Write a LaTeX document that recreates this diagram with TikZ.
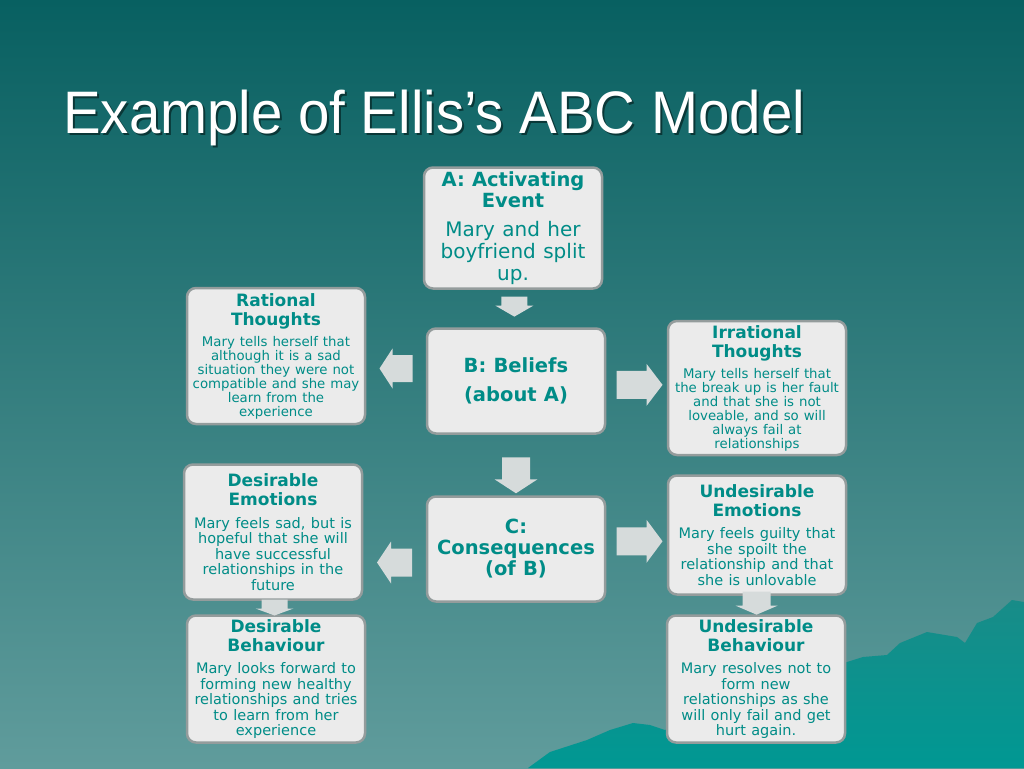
\documentclass[tikz,border=0pt]{standalone}
\usepackage{fontspec}
\setmainfont{DejaVu Sans}
\newfontfamily\titlefont{Liberation Sans}
\usetikzlibrary{calc}

\definecolor{bgtop}{RGB}{8,96,97}
\definecolor{bgmid}{RGB}{60,123,121}
\definecolor{bgbot}{RGB}{96,156,156}
\definecolor{hilltop}{RGB}{24,140,136}
\definecolor{hillbot}{RGB}{0,152,147}
\definecolor{cardfill}{RGB}{235,235,235}
\definecolor{cardline}{RGB}{148,156,156}
\definecolor{cardtext}{RGB}{0,140,135}
\definecolor{arrowfill}{RGB}{214,219,219}
\definecolor{titleshade}{RGB}{10,55,55}

\newcommand{\widespace}{\spaceskip=0.37em\relax}
\newcommand{\bighead}{\fontsize{19.5}{21}\selectfont\bfseries\widespace}
\newcommand{\bigbody}{\fontsize{20}{22}\selectfont\mdseries\widespace}
\newcommand{\sidehead}{\fontsize{17}{19}\selectfont\bfseries\widespace}
\newcommand{\thinkbody}{\fontsize{13.3}{14}\selectfont\mdseries\widespace}
\newcommand{\sidebody}{\fontsize{14.5}{15.5}\selectfont\mdseries\widespace}
% block arrow: position, angle, length, head width, shaft width, head length
\newcommand{\blockarrow}[6]{%
  \fill[arrowfill, shift={#1}, rotate=#2]
    (-#3/2,-#5/2) -- (#3/2-#6,-#5/2) -- (#3/2-#6,-#4/2) -- (#3/2,0)
    -- (#3/2-#6,#4/2) -- (#3/2-#6,#5/2) -- (-#3/2,#5/2) -- cycle;}

\tikzset{
  card/.style={draw=cardline, fill=cardfill, line width=2.5pt,
    rounded corners=9pt, align=center, text=cardtext, inner sep=3pt,
    text width=172pt, minimum width=178pt},
  heading/.style={anchor=base west, inner sep=0pt, xscale=0.94,
    font=\titlefont\fontsize{60}{60}\selectfont},
}

\begin{document}
\begin{tikzpicture}[x=1pt,y=-1pt]
  \useasboundingbox (0,0) rectangle (1024,768);
  \shade[top color=bgtop, middle color=bgmid, bottom color=bgbot]
    (0,0) rectangle (1024,768);
  % hills
  \shade[top color=hilltop, bottom color=hillbot]
    (528,768) -- (550,752) -- (587,740) -- (610,730) -- (633,723)
    -- (650,725) -- (665,730) -- (720,705) -- (790,680) -- (847,662)
    -- (863,657) -- (887,655) -- (900,643) -- (927,632) -- (957,637)
    -- (965,643) -- (977,623) -- (993,617) -- (1012,600) -- (1024,602)
    -- (1024,768) -- cycle;

  % title
  \node[heading, text=titleshade] (shadow) at (65,135) {Example of Ellis’s ABC Model};
  \node[heading, text=white] (title) at (63,133) {Example of Ellis’s ABC Model};

  % centre column
  \node[card, minimum height=121pt] (A) at (513,228)
    {\bighead A: Activating\\Event\par\vspace{7pt}\bigbody Mary and her\\boyfriend split\\up.\par};
  \node[card, minimum height=105pt] (B) at (516,381)
    {\bighead B: Beliefs\par\vspace{8pt}(about A)\par};
  \node[card, minimum height=105pt] (C) at (516,549)
    {\bighead C:\\Consequences\\(of B)\par};

  % left column
  \node[card, minimum height=136pt] (R) at (276,356)
    {\sidehead Rational\\Thoughts\par\vspace{7pt}\thinkbody Mary tells herself that\\although it is a sad\\situation they were not\\compatible and she may\\learn from the\\experience\par};
  \node[card, minimum height=135pt] (DE) at (273,532)
    {\sidehead Desirable\\Emotions\par\vspace{7pt}\sidebody Mary feels sad, but is\\hopeful that she will\\have successful\\relationships in the\\future\par};
  \node[card, minimum height=127pt] (DB) at (276,679)
    {\sidehead Desirable\\Behaviour\par\vspace{7pt}\sidebody Mary looks forward to\\forming new healthy\\relationships and tries\\to learn from her\\experience\par};

  % right column
  \node[card, minimum height=134pt] (I) at (757,388)
    {\sidehead Irrational\\Thoughts\par\vspace{7pt}\thinkbody Mary tells herself that\\the break up is her fault\\and that she is not\\loveable, and so will\\always fail at\\relationships\par};
  \node[card, minimum height=119pt] (UE) at (757,535)
    {\sidehead Undesirable\\Emotions\par\vspace{7pt}\sidebody Mary feels guilty that\\she spoilt the\\relationship and that\\she is unlovable\par};
  \node[card, minimum height=127pt] (UB) at (756,679)
    {\sidehead Undesirable\\Behaviour\par\vspace{7pt}\sidebody Mary resolves not to\\form new\\relationships as she\\will only fail and get\\hurt again.\par};

  % arrows
  \blockarrow{($(A.south)!0.45!(B.north)$)}{-90}{20}{38}{26}{11}
  \blockarrow{($(B.south)!0.67!(C.north)$)}{-90}{36}{43}{28}{14}
  \blockarrow{($(B.west)!0.5!(R.east)$)}{180}{33}{40}{27}{13}
  \blockarrow{($(B.east)!0.55!(I.west)$)}{0}{46}{42}{28}{16}
  \blockarrow{($(C.west)!0.5!(DE.east)+(0,22)$)}{180}{35}{42}{28}{14}
  \blockarrow{($(C.east)!0.55!(UE.west)$)}{0}{46}{43}{28}{16}
  \blockarrow{($(DE.south)!0.5!(DB.north)$)}{-90}{16}{38}{26}{7}
  \blockarrow{($(UE.south)!0.4!(UB.north)$)}{-90}{23}{42}{28}{9}
\end{tikzpicture}
\end{document}
